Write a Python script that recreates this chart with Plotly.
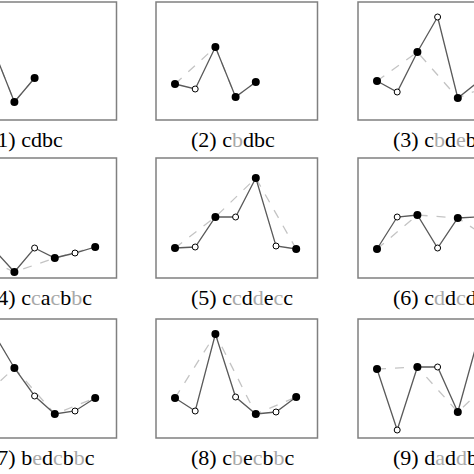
import plotly.graph_objects as go

# letter strings under each panel
labels = ["cdbc", "cbdbc", "cbdebcc",
          "ccacbbc", "ccddecc", "cddcddc",
          "bedcbbc", "cbecbbc", "daddbed"]

# 1 = filled dot (black letter), 0 = hollow dot (grey letter)
filled = [
    [1, 1, 1, 1],
    [1, 0, 1, 1, 1],
    [1, 0, 1, 0, 1, 0, 1],
    [1, 0, 1, 0, 1, 0, 1],
    [1, 0, 1, 0, 1, 0, 1],
    [1, 0, 1, 0, 1, 0, 1],
    [1, 0, 1, 0, 1, 0, 1],
    [1, 0, 1, 0, 1, 0, 1],
    [1, 0, 1, 0, 1, 0, 1],
]

# heights
values = [
    [42, 69, 18, 42],
    [36, 31, 73, 23, 38],
    [39, 28, 68, 103, 22, 38, 38],
    [25, 28, 6, 30, 20, 25, 31],
    [30, 31, 61, 61, 100, 32, 29],
    [29, 61, 63, 30, 60, 61, 33],
    [33, 104, 70, 42, 24, 27, 40],
    [40, 27, 104, 41, 24, 26, 41],
    [69, 8, 71, 71, 26, 99, 64],
]

W = 474
# panel boxes in pixels (full size, some run off the picture)
col_left = [-45, 156, 358]
panel_w = 161.5
row_top = [2, 158, 319]
row_bot = [120, 278, 438]
first_pt = 19      # px from panel left to first point
step = 20.2        # px between points

GREY_TXT = "#a9a9a9"

fig = go.Figure()
layout = {}
shapes = []
annotations = []

for k in range(9):
    r, c = divmod(k, 3)
    n = k + 1
    xa = "xaxis" if n == 1 else f"xaxis{n}"
    ya = "yaxis" if n == 1 else f"yaxis{n}"
    xref = "x" if n == 1 else f"x{n}"
    yref = "y" if n == 1 else f"y{n}"

    left = col_left[c]
    right = left + panel_w
    vis_l = max(left, 0)
    vis_r = min(right, W)
    p0 = left + first_pt
    xr = [(vis_l - p0) / step, (vis_r - p0) / step]
    h = row_bot[r] - row_top[r]

    layout[xa] = dict(domain=[vis_l / W, vis_r / W], range=xr, visible=False,
                      anchor=yref, fixedrange=True)
    layout[ya] = dict(domain=[1 - row_bot[r] / W, 1 - row_top[r] / W],
                      range=[0, h], visible=False, anchor=xref, fixedrange=True)

    v = values[k]
    f = filled[k]
    idx = list(range(len(v)))
    fx = [i for i in idx if f[i]]
    fy = [v[i] for i in fx]
    hx = [i for i in idx if not f[i]]
    hy = [v[i] for i in hx]

    fig.add_trace(go.Scatter(x=fx, y=fy, mode="lines", xaxis=xref, yaxis=yref,
                             line=dict(color="#c4c4c4", width=1.3, dash="dash"),
                             showlegend=False, hoverinfo="skip"))
    fig.add_trace(go.Scatter(x=idx, y=v, mode="lines", xaxis=xref, yaxis=yref,
                             line=dict(color="#5a5a5a", width=1.3),
                             showlegend=False, hoverinfo="skip"))
    fig.add_trace(go.Scatter(x=fx, y=fy, mode="markers", xaxis=xref, yaxis=yref,
                             marker=dict(color="black", size=8),
                             showlegend=False, hoverinfo="skip"))
    if hx:
        fig.add_trace(go.Scatter(x=hx, y=hy, mode="markers", xaxis=xref, yaxis=yref,
                                 marker=dict(color="white", size=6,
                                             line=dict(color="black", width=1)),
                                 showlegend=False, hoverinfo="skip"))

    shapes.append(dict(type="rect", xref="paper", yref="paper",
                       x0=left / W, x1=right / W,
                       y0=1 - row_bot[r] / W, y1=1 - row_top[r] / W,
                       line=dict(color="#808080", width=1.5), layer="above"))

    txt = f"({n}) "
    for ch, fl in zip(labels[k], f):
        txt += ch if fl else f"<span style='color:{GREY_TXT}'>{ch}</span>"
    annotations.append(dict(text=txt, xref="paper", yref="paper",
                            x=(left + 33) / W, y=1 - (row_bot[r] + 19.5) / W,
                            xanchor="left", yanchor="middle", showarrow=False,
                            font=dict(family="Liberation Serif", size=22,
                                      color="black")))

fig.update_layout(**layout)
fig.update_layout(
    width=W, height=W,
    margin=dict(l=0, r=0, t=0, b=0),
    paper_bgcolor="white", plot_bgcolor="white",
    shapes=shapes, annotations=annotations,
)

# page body margin would push the figure 8px in
fig.write_html("out.html",
               config={"displayModeBar": False},
               post_script="document.body.style.margin='0';"
                           "document.body.style.overflow='hidden';")
